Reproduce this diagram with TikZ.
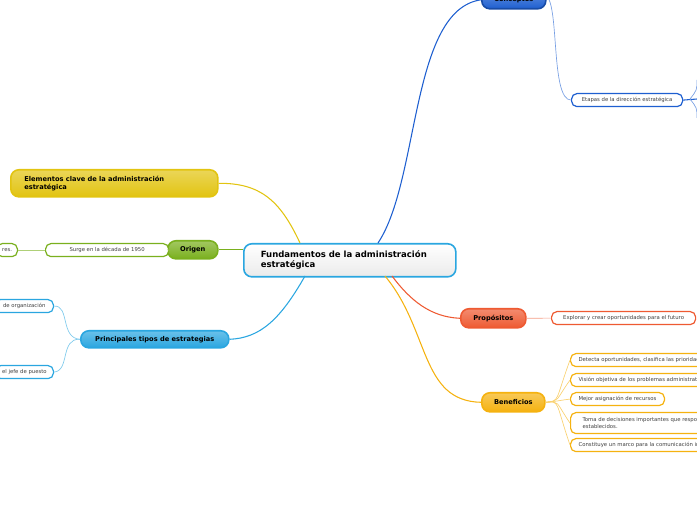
\documentclass[tikz,border=0pt]{standalone}
\usepackage{fontspec}
\setmainfont{DejaVu Sans}
\definecolor{cblue}{HTML}{1E5FD0}
\definecolor{lblue}{HTML}{2AA6E0}
\definecolor{cgreen}{HTML}{7AB01E}
\definecolor{cyel}{HTML}{E2C411}
\definecolor{cred}{HTML}{EE5A32}
\definecolor{corange}{HTML}{F5B210}
\tikzset{
 main/.style={draw=#1,line width=1.2pt,rounded corners=6pt,anchor=north west,inner sep=0pt,font=\bfseries\fontsize{5}{6}\selectfont,align=center},
 sub/.style={draw=#1,line width=0.9pt,fill=white,rounded corners=4pt,anchor=north west,inner sep=0pt,font=\fontsize{4}{4.8}\selectfont,text=black!75,align=left},
 con/.style={draw=#1,line width=0.8pt},
 thin/.style={draw=#1!60,line width=0.5pt}
}
\begin{document}
\begin{tikzpicture}[x=0.75pt,y=-0.75pt]
\useasboundingbox (0,0) rectangle (697,520);
\clip (0,0) rectangle (697,520);
\node[main=lblue,top color=white,bottom color=black!8,minimum width=212*0.75pt,minimum height=33*0.75pt,text width=178*0.75pt,align=left,font=\bfseries\fontsize{6.4}{7.4}\selectfont] (c) at (243,243) {Fundamentos de la administración\\estratégica};
\node[main=cblue!80!black,top color=cblue!70,bottom color=cblue,minimum width=64*0.75pt,minimum height=18*0.75pt] (con) at (481,-10) {Conceptos};
\node[main=cyel,top color=cyel!70,bottom color=cyel,minimum width=207*0.75pt,minimum height=27*0.75pt,text width=180*0.75pt,align=left] (el) at (10,169) {Elementos clave de la administración\\estratégica};
\node[main=cgreen,top color=cgreen!70,bottom color=cgreen,minimum width=50*0.75pt,minimum height=18*0.75pt] (or) at (167,240) {Origen};
\node[main=lblue,top color=lblue!70,bottom color=lblue,minimum width=148*0.75pt,minimum height=17*0.75pt] (pr) at (80,330) {Principales tipos de estrategias};
\node[main=cred,top color=cred!70,bottom color=cred,minimum width=65*0.75pt,minimum height=19*0.75pt] (pp) at (460,308) {Propósitos};
\node[main=corange,top color=corange!70,bottom color=corange,minimum width=63*0.75pt,minimum height=19*0.75pt] (be) at (481,392) {Beneficios};
\node[sub=cblue,minimum width=111*0.75pt,minimum height=13*0.75pt,align=center] (et) at (571,93) {Etapas de la dirección estratégica};
\node[sub=cgreen,minimum width=123*0.75pt,minimum height=13*0.75pt,align=center] (su) at (45,243) {Surge en la década de 1950};
\node[sub=cgreen,minimum height=13*0.75pt,inner xsep=4pt,anchor=north east] (re) at (18,243) {res.};
\node[sub=lblue,minimum height=13*0.75pt,inner xsep=6pt,anchor=north east] (p1) at (54,299) {de organización};
\node[sub=lblue,minimum height=13*0.75pt,inner xsep=5pt,anchor=north east] (p2) at (54,365) {el jefe de puesto};
\node[sub=cred,minimum width=144*0.75pt,minimum height=13*0.75pt,align=center] (ex) at (551,311) {Explorar y crear oportunidades para el futuro};
\node[sub=corange,minimum height=13*0.75pt,inner xsep=6pt] (b1) at (570,353) {Detecta oportunidades, clasifica las prioridades};
\node[sub=corange,minimum height=13*0.75pt,inner xsep=6pt] (b2) at (570,373) {Visión objetiva de los problemas administrativos};
\node[sub=corange,minimum height=13*0.75pt,inner xsep=6pt] (b3) at (570,392) {Mejor asignación de recursos};
\node[sub=corange,minimum height=21*0.75pt,inner xsep=9pt] (b4) at (570,412) {Toma de decisiones importantes que respondan a objetivos\\establecidos.};
\node[sub=corange,minimum height=13*0.75pt,inner xsep=6pt] (b5) at (570,438) {Constituye un marco para la comunicación interna};
\draw[con=cblue] (378,243) .. controls (420,180) and (410,10) .. (con.west);
\draw[con=cyel] (300,243) .. controls (280,200) and (260,183) .. (el.east);
\draw[con=cgreen] (c.west |- or.east) -- (or.east);
\draw[con=lblue] (305,276) .. controls (280,320) and (260,338) .. (pr.east);
\draw[con=cred] (392,276) .. controls (410,300) and (430,317) .. (pp.west);
\draw[con=corange] (385,276) .. controls (430,330) and (420,401) .. (be.west);
\draw[thin=cblue] (545,-5) .. controls (560,0) and (550,100) .. (et.west);
\draw[cblue,line width=0.8pt] (et.east) -- (697,99);
\draw[thin=cblue] (690,99) .. controls (697,90) .. (697,80);
\draw[thin=cblue] (690,99) .. controls (697,108) .. (697,118);
\draw[thin=cgreen] (or.west) -- (su.east);
\draw[thin=cgreen] (su.west) -- (re.east);
\draw[thin=lblue] (pr.west) .. controls (60,338) and (70,305) .. (p1.east);
\draw[thin=lblue] (pr.west) .. controls (60,338) and (70,371) .. (p2.east);
\draw[thin=cred] (pp.east) -- (ex.west);
\foreach \b in {b1,b2,b3,b4,b5}{\draw[thin=corange] (be.east) .. controls (560,401) and (555,401) .. (\b.west);}
\end{tikzpicture}
\end{document}
